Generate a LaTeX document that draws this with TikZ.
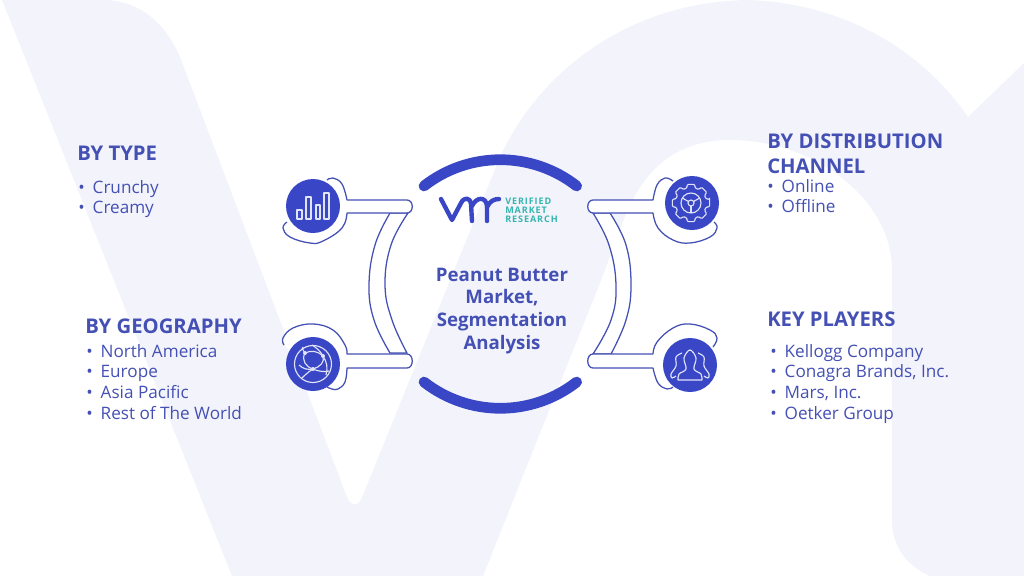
\documentclass[tikz,border=0pt]{standalone}
\usepackage{fontspec}
\setmainfont{Open Sans}
\definecolor{wash}{HTML}{F3F4FB}
\definecolor{ink}{HTML}{4450B4}
\definecolor{disc}{HTML}{3947C6}
\definecolor{teal}{HTML}{35B5B0}
\tikzset{
  headtxt/.style={inner sep=0, anchor=west, align=left, text=ink, font=\fontsize{15.2}{18.8}\selectfont\bfseries},
  listtxt/.style={inner sep=0, anchor=north west, align=left, text=ink, font=\fontsize{12.85}{15.45}\selectfont},
  midtxt/.style={inner sep=0, align=center, text=ink, font=\fontsize{14}{17.2}\selectfont\bfseries},
  logotxt/.style={inner sep=0, anchor=west, text=teal, font=\fontsize{6.8}{7}\selectfont\bfseries\addfontfeatures{LetterSpace=10}},
  outl/.style={draw=ink, line width=.95pt, fill=white, line join=round},
  icondisc/.style={circle, fill=disc, minimum size=40.5pt, inner sep=0},
  iconline/.style={draw=white!85!disc, line width=.85pt, line join=round},
  bigarc/.style={draw=disc, line width=8pt, line cap=round},
}
\newcommand{\bul}{\textbullet\hspace{6pt}}
\begin{document}
\begin{tikzpicture}[x=.75pt,y=-.75pt]
\useasboundingbox (0,0) rectangle (1024,576);
% watermark
\fill[wash] (2,0) -- (107,0) .. controls (140,2) and (165,22) .. (180,57) -- (347,497)
  .. controls (351,507) and (359,507) .. (363,495) -- (500,157)
  .. controls (540,70) and (630,2) .. (747,0) .. controls (830,2) and (915,40) .. (968,117)
  -- (1024,63) -- (1024,576) -- (930,576) .. controls (905,565) and (892,545) .. (892,520)
  -- (892,270) .. controls (892,200) and (815,140) .. (730,140)
  .. controls (675,140) and (640,170) .. (620,230) -- (600,283)
  -- (483,576) -- (232,576) -- cycle;

% left pair
\path[outl] plot[smooth,tension=.7] coordinates {(390,213) (375,245) (369,285) (374,320) (390,353)}
  -- (407,353) -- plot[smooth,tension=.7] coordinates {(407,353) (392,320) (385,285) (391,245) (408,213)} -- cycle;
\path[outl] plot[smooth,tension=.7] coordinates {(327,180) (333,178) (342,184) (347,200)}
  -- (407,200) .. controls (414,200) and (414,213) .. (407,213) -- (347,213)
  -- plot[smooth,tension=.7] coordinates {(347,213) (342,228) (323,241) (310,243) (290,237) (283,228) (287,222)};
\path[outl] plot[smooth,tension=.7] coordinates {(284,345) (283,338) (293,328) (313,324) (333,330) (345,345) (347,354)}
  -- (407,354) .. controls (414,354) and (414,368) .. (407,368) -- (347,368)
  -- plot[smooth,tension=.7] coordinates {(347,368) (345,382) (338,389) (332,389) (327,387)};

% right pair
\path[outl] plot[smooth,tension=.7] coordinates {(593,213) (609,245) (616,285) (611,320) (593,354)}
  -- (611,354) -- plot[smooth,tension=.7] coordinates {(611,354) (626,320) (631,285) (626,245) (610,213)} -- cycle;
\path[outl] plot[smooth,tension=.7] coordinates {(673,181) (665,178) (657,185) (653,200)}
  -- (593,200) .. controls (586,200) and (586,213) .. (593,213) -- (653,213)
  -- plot[smooth,tension=.7] coordinates {(653,213) (658,228) (673,240) (690,243) (710,237) (717,228) (714,222)};
\path[outl] plot[smooth,tension=.7] coordinates {(713,347) (717,338) (710,330) (690,324) (673,328) (657,342) (653,354)}
  -- (593,354) .. controls (586,354) and (586,368) .. (593,368) -- (653,368)
  -- plot[smooth,tension=.7] coordinates {(653,368) (658,383) (667,389) (673,387)};

% central arcs
\draw[bigarc] (424,186) arc[start angle=-128, end angle=-52, radius=124];
\draw[bigarc] (424,382) arc[start angle=128, end angle=52, radius=124];

\node[icondisc] (disctype) at (313,206) {};
\node[icondisc] (discgeo) at (313,364) {};
\node[icondisc] (discdist) at (692,203) {};
\node[icondisc] (discplay) at (690,365) {};

% bars
\draw[iconline] (297,210) rectangle (302,219);
\draw[iconline] (306,197) rectangle (311,219);
\draw[iconline] (316,205) rectangle (320,219);
\draw[iconline] (324,193) rectangle (329,219);

% globe
\draw[iconline] (discgeo) circle[radius=18.5];
\draw[iconline] (305,353) .. controls (311,350) and (318,351) .. (323,356);
\draw[iconline] (305,353) .. controls (301,360) and (306,367) .. (313,369);
\draw[iconline] (323,356) .. controls (325,362) and (320,367) .. (313,369);
\draw[iconline] (299,365) .. controls (303,369) and (308,370) .. (313,369) .. controls (320,372) and (326,372) .. (329,371);
\draw[iconline] (305,353) .. controls (302,349) and (302,347) .. (303,347);
\draw[iconline] (312,345) .. controls (317,348) and (321,352) .. (323,356) .. controls (327,362) and (328,368) .. (326,375);
\draw[iconline] (313,369) .. controls (308,372) and (304,376) .. (302,378);
\fill[white!85!disc] (305,353) circle[radius=2] (323,356) circle[radius=2] (313,369) circle[radius=2];

% gear
\begin{scope}[shift={(691,203)}]
\draw[iconline, rounded corners=.8pt] (-11:19) \foreach \a in {0,45,...,315}{
  -- ({\a-11}:19) -- ({\a+11}:19) -- ({\a+16}:15.5) -- ({\a+29}:15.5)} -- cycle;
\draw[iconline] (0,0) circle[radius=10];
\draw[iconline] (0,0) circle[radius=3];
\draw[iconline] (90:3) -- (90:10);
\draw[iconline] (-30:3) -- (-30:10);
\draw[iconline] (210:3) -- (210:10);
\end{scope}

% people
\draw[iconline] plot[smooth,tension=.6] coordinates {(678,380) (679,374) (686,369) (684,358) (690,350) (696,358) (694,369) (701,374) (702,380)} -- cycle;
\draw[iconline] plot[smooth,tension=.6] coordinates {(682,353) (676,357) (676,366) (671,374) (672,378) (676,376)};
\draw[iconline] plot[smooth,tension=.6] coordinates {(698,353) (704,357) (704,366) (709,374) (708,378) (704,376)};

% logo
\draw[draw=disc, line width=3.3pt, line cap=round, line join=round]
  (441,199) -- (452,220) -- (461,203) .. controls (464,197) and (470,197) .. (471,204) -- (472,221);
\draw[draw=disc, line width=3.3pt, line cap=round]
  (472,206) .. controls (476,197) and (486,196) .. (487,206) -- (487,221);
\draw[draw=disc, line width=3.3pt, line cap=round]
  (487,207) .. controls (490,201) and (494,199) .. (499,199);
\node[logotxt] (logoa) at (505,201) {VERIFIED};
\node[logotxt] (logob) at (505,210) {MARKET};
\node[logotxt] (logoc) at (505,219.5) {RESEARCH};

\node[midtxt] (midlabel) at (502,311) {Peanut Butter\\Market,\\Segmentation\\Analysis};

\node[headtxt] (headtype) at (77,153) {BY TYPE};
\node[listtxt] (listtype) at (78,180) {\bul Crunchy\\\bul Creamy};
\node[headtxt] (headgeo) at (85,326) {BY GEOGRAPHY};
\node[listtxt] (listgeo) at (86,344) {\bul North America\\\bul Europe\\\bul Asia Pacific\\\bul Rest of The World};
\node[headtxt] (headdist) at (767,153.5) {BY DISTRIBUTION\\CHANNEL};
\node[listtxt] (listdist) at (767,179) {\bul Online\\\bul Offline};
\node[headtxt] (headplay) at (767,319) {KEY PLAYERS};
\node[listtxt] (listplay) at (770,344) {\bul Kellogg Company\\\bul Conagra Brands, Inc.\\\bul Mars, Inc.\\\bul Oetker Group};
\end{tikzpicture}
\end{document}
